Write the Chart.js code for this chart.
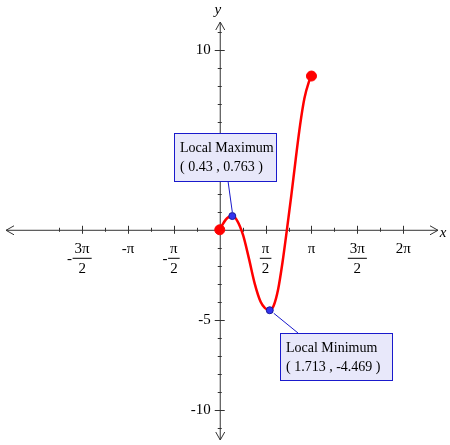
<!DOCTYPE html>
<html><head><meta charset="utf-8">
<script src="https://cdn.jsdelivr.net/npm/chart.js@4.4.0/dist/chart.umd.min.js"></script>
<style>body{margin:0;background:#fff}#c{width:450px;height:445px}</style>
</head><body><div id="c"><canvas id="chart"></canvas></div>
<script>
// curve f(x)
var curveX = [0, 0.1, 0.2, 0.3, 0.43, 0.6, 0.8, 1.0, 1.2, 1.4, 1.55, 1.713, 1.85, 2.0, 2.15, 2.3, 2.45, 2.6, 2.75, 2.9, 3.05, 3.1416];
var curveY = [0, 0.3, 0.55, 0.7, 0.763, 0.5, -0.3, -1.6, -3.0, -4.0, -4.35, -4.469, -4.2, -3.3, -1.8, 0, 1.9, 3.9, 5.8, 7.3, 8.2, 8.54];
var endX = [0, 3.1416], endY = [0, 8.54];
var extremaX = [0.43, 1.713], extremaY = [0.763, -4.469];
var extremaLabels = [["Local Maximum", "( 0.43 , 0.763 )"], ["Local Minimum", "( 1.713 , -4.469 )"]];
var xTickLabels = [[-3, 2], [-1, 1], [-1, 2], [1, 2], [1, 1], [3, 2], [2, 1]]; // n*pi/d
var yTickLabels = [10, -5, -10];

var P = Math.PI;
var pts = curveX.map(function (x, i) { return { x: x, y: curveY[i] }; });

var axesPlugin = {
  id: 'axes',
  beforeDatasetsDraw: function (chart) {
    var c = chart.ctx, xs = chart.scales.x, ys = chart.scales.y;
    var ox = xs.getPixelForValue(0), oy = ys.getPixelForValue(0);
    c.save();
    c.strokeStyle = '#333'; c.lineWidth = 1;
    c.beginPath();
    c.moveTo(6, oy + .5); c.lineTo(438, oy + .5);
    c.moveTo(ox + .5, 22); c.lineTo(ox + .5, 440);
    // arrows
    c.moveTo(14, oy - 4); c.lineTo(6, oy + .5); c.lineTo(14, oy + 5);
    c.moveTo(430, oy - 4); c.lineTo(438, oy + .5); c.lineTo(430, oy + 5);
    c.moveTo(ox - 4, 30); c.lineTo(ox + .5, 22); c.lineTo(ox + 5, 30);
    c.moveTo(ox - 4, 432); c.lineTo(ox + .5, 440); c.lineTo(ox + 5, 432);
    for (var k = -7; k <= 8; k++) {
      if (k === 0) continue;
      var px = Math.round(xs.getPixelForValue(k * P / 4)) + .5;
      var h = k % 2 === 0 ? 4 : 2;
      c.moveTo(px, oy - h); c.lineTo(px, oy + h);
    }
    for (var j = -11; j <= 11; j++) {
      if (j === 0) continue;
      var py = Math.round(ys.getPixelForValue(j)) + .5;
      var w = j % 5 === 0 ? 5 : 2;
      c.moveTo(ox - w, py); c.lineTo(ox + w, py);
    }
    c.stroke();
    c.fillStyle = '#000';
    c.font = 'italic 15px "Liberation Serif"';
    c.textAlign = 'center';
    c.fillText('y', ox - 2, 14);
    c.fillText('x', 443, oy + 7);
    c.font = '15px "Liberation Serif"';
    xTickLabels.forEach(function (t) {
      var n = t[0], d = t[1];
      var px = xs.getPixelForValue(n * P / d);
      var a = Math.abs(n);
      var num = (a === 1 ? '' : a) + 'π';
      c.textAlign = 'center'; c.textBaseline = 'alphabetic';
      if (d === 1) {
        c.fillText((n < 0 ? '-' : '') + num, px, oy + 23);
      } else {
        c.fillText(num, px, oy + 23);
        c.fillText('2', px, oy + 43);
        var wd = c.measureText(num).width + 4;
        c.fillRect(px - wd / 2, oy + 28, wd, 1);
        if (n < 0) c.fillText('-', px - wd / 2 - 3, oy + 33);
      }
    });
    c.textAlign = 'right'; c.textBaseline = 'middle';
    yTickLabels.forEach(function (v) {
      c.fillText(String(v), ox - 9, ys.getPixelForValue(v));
    });
    c.restore();
  },
  afterDatasetsDraw: function (chart) {
    var c = chart.ctx, xs = chart.scales.x, ys = chart.scales.y;
    var boxes = [{ x: 174, y: 133, w: 102, h: 48, lx: 228, ly: 181 }, { x: 280, y: 333, w: 112, h: 47, lx: 298, ly: 333 }];
    c.save();
    boxes.forEach(function (b, i) {
      var px = xs.getPixelForValue(extremaX[i]), py = ys.getPixelForValue(extremaY[i]);
      c.strokeStyle = '#1a1acc'; c.lineWidth = 1;
      c.beginPath(); c.moveTo(b.lx, b.ly); c.lineTo(px + (i ? 4 : 0), py + (i ? 3 : -4)); c.stroke();
      c.fillStyle = '#e8e8fa';
      c.fillRect(b.x, b.y, b.w, b.h);
      c.strokeRect(b.x + .5, b.y + .5, b.w, b.h);
      c.fillStyle = '#000'; c.font = '14px "Liberation Serif"';
      c.textAlign = 'left'; c.textBaseline = 'middle';
      c.fillText(extremaLabels[i][0], b.x + 6, b.y + 15);
      c.fillText(extremaLabels[i][1], b.x + 6, b.y + 34);
    });
    c.restore();
  }
};

new Chart(document.getElementById('chart'), {
  type: 'scatter',
  data: {
    datasets: [
      { data: extremaX.map(function (x, i) { return { x: x, y: extremaY[i] }; }), backgroundColor: '#3333ee', borderColor: '#1a1a99', borderWidth: 1, pointRadius: 3.5, order: 0 },
      { data: endX.map(function (x, i) { return { x: x, y: endY[i] }; }), backgroundColor: '#ff0000', borderColor: '#ff0000', pointRadius: 5, order: 1 },
      { data: pts, showLine: true, borderColor: '#ff0000', borderWidth: 2.5, pointRadius: 0, tension: 0.4, cubicInterpolationMode: 'monotone', order: 2 }
    ]
  },
  options: {
    responsive: true, maintainAspectRatio: false, animation: false,
    layout: { padding: 0 },
    plugins: { legend: { display: false }, tooltip: { enabled: false } },
    scales: {
      x: { type: 'linear', min: -7.32, max: 7.68, display: false },
      y: { type: 'linear', min: -11.62, max: 12.43, display: false }
    }
  },
  plugins: [axesPlugin]
});
</script></body></html>
